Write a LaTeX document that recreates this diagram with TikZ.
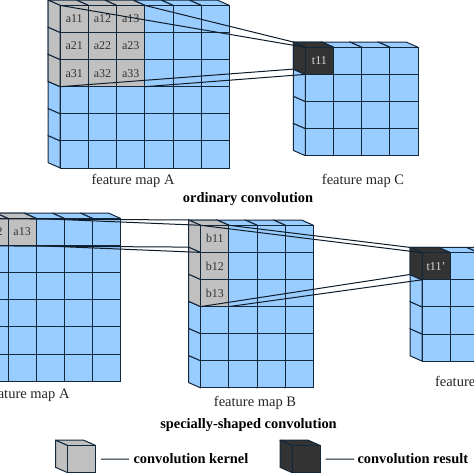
\documentclass[tikz,border=0pt]{standalone}
\usepackage{fontspec}
\setmainfont{Liberation Serif}
\usepackage{xcolor}
\usetikzlibrary{calc}
\definecolor{cellblue}{HTML}{99CCFF}
\definecolor{kernelgray}{HTML}{C0C0C0}
\definecolor{resultdark}{HTML}{333333}
\definecolor{edgeline}{HTML}{14283C}

% one cube: name, left, top, fill, text colour, text
\newcommand{\cellcube}[6]{%
  \fill[#4] (#2,#3) -- ++(-12,-5.3) -- ++(28.2,0) -- ++(12,5.3) -- cycle;
  \draw[faceline] (#2,#3) -- ++(-12,-5.3) -- ++(28.2,0) -- ++(12,5.3);
  \draw[faceline, fill=#4] (#2,#3) -- ++(-12,-5.3) -- ++(0,27.1) -- ++(12,5.3) -- cycle;
  \coordinate (#1b) at ($(#2,#3)+(-12,-5.3)$);
  \coordinate (#1c) at ($(#2,#3)+(-12,21.8)$);
  \node[cellfront, fill=#4, text=#5] (#1) at (#2,#3) {#6};
}
% whole map of blue cubes: prefix, left, top, columns, rows
\newcommand{\featuremap}[5]{%
  \foreach \j in {#5,...,1}
    \foreach \i in {#4,...,1}
      \cellcube{#1\i\j}{#2+\i*28.2-28.2}{#3+\j*27.1-27.1}{cellblue}{black}{};
}

\begin{document}
\begin{tikzpicture}[
    x=1pt, y=-1pt,
    faceline/.style={draw=edgeline, line width=1pt, line join=round},
    cellfront/.style={rectangle, draw=edgeline, line width=1pt, anchor=north west,
                      minimum width=28.2pt, minimum height=27.1pt, inner sep=0pt, outer sep=0pt,
                      font=\fontsize{12}{12}\selectfont},
    wire/.style={draw=edgeline!70!black, line width=1pt},
    maplabel/.style={font=\fontsize{14.5}{15}\selectfont, text=black!85},
    titlelabel/.style={font=\fontsize{14.4}{15}\selectfont\bfseries},
]
\path[clip] (0,0) rectangle (474,474);
\fill[white] (0,0) rectangle (474,474);

%% Upper row: ordinary convolution
\featuremap{pa}{60.2}{5.4}{6}{6}
\cellcube{a33}{116.6}{59.6}{kernelgray}{black!80}{a33}
\cellcube{a32}{88.4}{59.6}{kernelgray}{black!80}{a32}
\cellcube{a31}{60.2}{59.6}{kernelgray}{black!80}{a31}
\cellcube{a23}{116.6}{32.5}{kernelgray}{black!80}{a23}
\cellcube{a22}{88.4}{32.5}{kernelgray}{black!80}{a22}
\cellcube{a21}{60.2}{32.5}{kernelgray}{black!80}{a21}
\cellcube{a13}{116.6}{5.4}{kernelgray}{black!80}{a13}
\cellcube{a12}{88.4}{5.4}{kernelgray}{black!80}{a12}
\cellcube{a11}{60.2}{5.4}{kernelgray}{black!80}{a11}

\featuremap{pc}{305.3}{47.3}{4}{4}
\cellcube{t11}{305.3}{47.3}{resultdark}{white!85!black}{t11}

\draw[wire] (a13.north east) -- (t11b);
\draw[wire] (a11.north west) -- (t11.north west);
\draw[wire] (a31.south west) -- (t11c);
\draw[wire] (a33.south east) -- (t11.south west);

\node[maplabel] (mapa) at (133,181) {feature map A};
\node[maplabel] (mapc) at (363,181) {feature map C};
\node[titlelabel] (ordinary) at (248,199) {ordinary convolution};

%% Lower row: specially-shaped convolution
\featuremap{qa}{-48.4}{218.5}{6}{6}
\cellcube{c13}{8}{218.5}{kernelgray}{black!80}{a13}
\cellcube{c12}{-20.2}{218.5}{kernelgray}{black!80}{a12}
\cellcube{c11}{-48.4}{218.5}{kernelgray}{black!80}{a11}

\featuremap{qb}{200.7}{225.3}{4}{6}
\cellcube{b13}{200.7}{279.5}{kernelgray}{black!80}{b13}
\cellcube{b12}{200.7}{252.4}{kernelgray}{black!80}{b12}
\cellcube{b11}{200.7}{225.3}{kernelgray}{black!80}{b11}

\featuremap{qc}{422}{252.7}{4}{4}
\cellcube{t12}{422}{252.7}{resultdark}{white!85!black}{t11'}

\draw[wire] (c13.north east) -- (b11.north west);
\draw[wire] (c11.north west) -- (b11b);
\draw[wire] (c13.south east) -- (b11.south west);
\draw[wire] (c11.south west) -- (b11c);

\draw[wire] (b11.north east) -- (t12b);
\draw[wire] (b11.north west) -- (t12.north west);
\draw[wire] (b13.south west) -- (t12c);
\draw[wire] (b13.south east) -- (t12.south west);

\node[maplabel, anchor=east] (mapa2) at (73,395) {feature map A};
\node[maplabel] (mapb) at (255,403) {feature map B};
\node[maplabel, anchor=west] (mapc2) at (431.5,383) {feature map C};
\node[titlelabel] (special) at (248.5,425) {specially-shaped convolution};

%% Legend
\cellcube{kerneldemo}{67.5}{445.5}{kernelgray}{black}{}
\cellcube{resultdemo}{292}{445.5}{resultdark}{white}{}
\node[titlelabel, anchor=west] (kerneltext) at (130,459) {convolution kernel};
\node[titlelabel, anchor=west] (resulttext) at (354,459) {convolution result};
\draw[wire] ([xshift=5.5pt]kerneldemo.east) -- ([xshift=-1pt]kerneltext.west);
\draw[wire] ([xshift=5.5pt]resultdemo.east) -- (resulttext.west);

\end{tikzpicture}
\end{document}
